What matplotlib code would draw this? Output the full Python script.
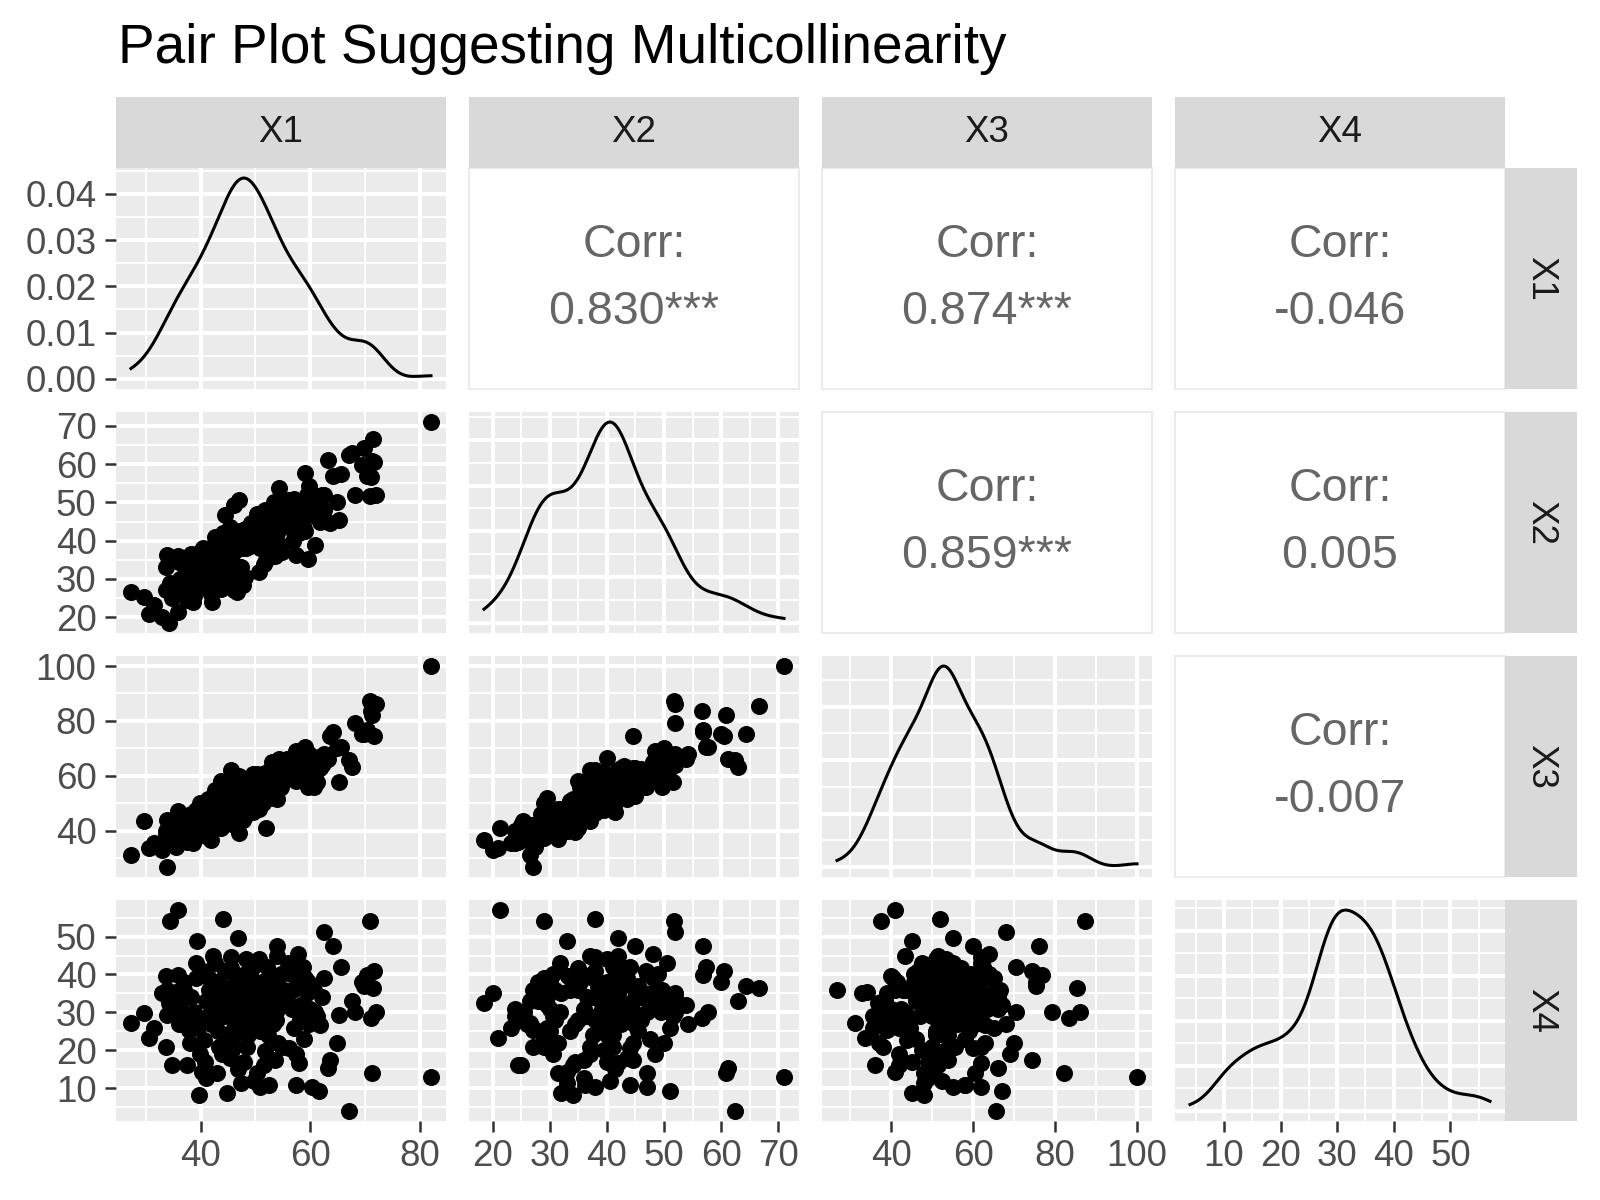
import numpy as np
import matplotlib
matplotlib.use("Agg")
import matplotlib.pyplot as plt
from matplotlib.ticker import MultipleLocator, FormatStrFormatter

plt.rcParams["font.family"] = ["Liberation Sans", "DejaVu Sans"]

x1 = [27.3, 29.7, 30.6, 33.6, 34.2, 33.9, 33.6, 34.5, 33.8, 31.5,
      34.8, 35.8, 35.8, 36.5, 37.3, 37.9, 39.4, 39.1, 37.6, 39.7,
      36.2, 38.3, 38.8, 36.9, 39.5, 38.0, 37.0, 39.9, 35.5, 38.6,
      36.0, 39.2, 40.6, 40.2, 40.9, 44.1, 44.5, 44.8, 42.1, 41.0,
      41.5, 42.0, 42.4, 42.8, 43.2, 43.5, 43.9, 44.3, 40.4, 47.0,
      41.8, 42.6, 43.0, 43.7, 44.6, 40.8, 41.6, 42.2, 43.4, 44.0,
      44.9, 46.0, 43.8, 42.9, 41.4, 46.8, 45.5, 45.6, 49.4, 47.3,
      47.0, 46.1, 46.7, 45.2, 45.8, 46.3, 46.6, 47.1, 47.5, 47.8,
      48.1, 48.4, 48.7, 49.0, 49.3, 49.6, 49.9, 45.3, 45.9, 46.4,
      46.9, 47.4, 47.7, 48.0, 48.3, 48.6, 48.9, 49.2, 49.5, 49.8,
      45.1, 45.7, 46.2, 47.2, 47.9, 48.5, 49.1, 49.7, 53.9, 50.9,
      52.4, 51.8, 53.6, 54.2, 50.6, 52.0, 50.2, 50.5, 50.8, 51.1,
      51.4, 51.7, 52.1, 52.6, 52.9, 53.2, 53.5, 53.8, 54.1, 54.4,
      54.7, 50.3, 50.7, 51.3, 51.9, 52.3, 52.8, 53.3, 53.7, 54.0,
      54.6, 54.9, 50.1, 51.5, 53.0, 57.8, 56.1, 57.9, 57.3, 59.1,
      59.7, 59.6, 48.2, 55.2, 46.5, 55.8, 56.4, 56.7, 57.0, 57.6,
      58.3, 58.6, 58.9, 59.3, 47.6, 56.0, 56.9, 57.4, 58.2, 59.0,
      59.9, 62.4, 64.2, 62.4, 61.8, 64.8, 63.3, 63.6, 60.3, 61.5,
      60.9, 62.1, 60.6, 61.2, 65.2, 68.2, 69.4, 67.0, 67.6, 69.7,
      65.6, 71.5, 70.8, 71.0, 71.2, 70.3, 71.6, 72.0, 82.0, 33.0]

x2 = [26.6, 25.3, 20.9, 27.0, 18.5, 36.2, 33.2, 29.0, 27.1, 23.2,
      25.0, 21.3, 36.0, 26.6, 31.0, 27.0, 33.0, 29.0, 24.5, 34.0,
      30.0, 36.5, 25.5, 33.5, 29.5, 31.5, 28.0, 37.0, 27.5, 23.9,
      34.5, 31.8, 30.0, 33.0, 36.0, 38.0, 46.8, 32.0, 23.9, 28.0,
      35.0, 31.0, 39.0, 29.0, 30.0, 37.5, 30.5, 30.5, 38.0, 32.0,
      26.0, 41.0, 29.5, 27.5, 40.0, 34.5, 30.0, 37.0, 29.0, 42.0,
      28.5, 27.0, 35.0, 31.5, 36.5, 42.0, 38.0, 35.0, 43.0, 33.0,
      50.7, 49.4, 26.6, 31.0, 40.0, 30.0, 33.5, 39.0, 42.0, 41.0,
      30.5, 41.0, 40.5, 38.5, 41.5, 41.5, 40.5, 43.5, 29.0, 37.5,
      41.5, 39.5, 28.5, 43.0, 38.0, 41.0, 40.0, 44.5, 39.5, 42.0,
      36.0, 39.5, 29.5, 42.5, 40.0, 39.5, 42.0, 40.5, 45.0, 38.0,
      44.0, 40.0, 36.0, 53.8, 31.8, 35.0, 42.0, 39.0, 45.5, 41.0,
      43.0, 48.0, 41.0, 38.5, 46.0, 42.5, 40.0, 47.0, 44.5, 39.0,
      49.0, 47.0, 40.0, 41.5, 45.0, 37.5, 43.5, 50.0, 39.5, 42.0,
      46.5, 37.0, 44.0, 34.0, 48.5, 48.0, 44.0, 42.0, 36.2, 57.7,
      54.2, 35.3, 41.0, 45.0, 41.0, 49.0, 47.0, 43.0, 51.0, 45.5,
      49.5, 44.0, 47.5, 52.0, 38.0, 50.5, 40.0, 48.5, 46.0, 42.5,
      50.0, 52.0, 56.8, 48.0, 45.0, 50.0, 61.2, 44.6, 47.0, 51.0,
      38.9, 52.0, 49.6, 51.6, 45.4, 52.0, 59.9, 62.5, 63.0, 64.3,
      57.4, 66.7, 51.8, 56.6, 60.9, 56.8, 60.5, 52.0, 71.0, 20.1]

x3 = [31.1, 43.5, 33.6, 38.0, 36.7, 44.0, 40.0, 37.5, 26.8, 35.5,
      42.0, 41.0, 47.3, 38.5, 44.0, 39.0, 45.0, 40.5, 36.0, 48.0,
      42.5, 46.0, 37.5, 43.0, 44.5, 37.0, 41.5, 50.0, 34.0, 35.5,
      39.5, 47.5, 44.0, 41.0, 49.0, 52.0, 56.0, 45.0, 40.0, 38.0,
      48.5, 43.0, 50.5, 45.5, 44.0, 53.0, 42.0, 47.0, 46.5, 39.0,
      36.5, 55.0, 49.5, 41.0, 51.0, 45.0, 47.0, 43.5, 50.0, 54.0,
      46.0, 42.0, 58.0, 48.0, 51.5, 55.0, 62.0, 49.0, 57.0, 48.0,
      60.0, 58.5, 42.0, 44.5, 53.0, 47.0, 51.0, 50.0, 59.0, 52.0,
      45.5, 55.5, 49.5, 53.5, 57.5, 47.0, 54.5, 51.5, 46.0, 56.0,
      50.5, 53.0, 44.0, 58.0, 51.0, 54.0, 50.0, 52.5, 60.5, 55.0,
      53.5, 47.5, 52.0, 54.5, 49.0, 56.5, 51.5, 52.5, 60.0, 55.0,
      58.0, 53.0, 54.0, 66.0, 48.0, 41.0, 52.5, 51.0, 59.0, 53.0,
      54.5, 61.0, 52.0, 52.0, 62.5, 56.0, 53.5, 58.0, 63.0, 55.5,
      64.0, 60.5, 53.5, 50.0, 52.5, 53.0, 54.0, 60.0, 61.5, 51.5,
      56.0, 62.0, 52.5, 51.5, 65.0, 64.0, 60.0, 62.0, 58.0, 70.5,
      68.0, 56.0, 51.0, 61.5, 57.0, 66.0, 59.5, 63.5, 65.0, 60.5,
      67.0, 62.5, 58.0, 64.5, 55.0, 62.0, 66.5, 69.0, 61.0, 63.0,
      66.0, 68.0, 76.0, 65.0, 63.0, 70.0, 66.2, 74.4, 62.0, 67.0,
      60.0, 64.0, 55.8, 57.6, 57.6, 79.2, 75.4, 65.7, 63.2, 75.4,
      70.5, 85.3, 87.2, 83.5, 82.3, 76.7, 74.4, 86.0, 100.0, 33.0]

x4 = [27.1, 29.8, 23.2, 21.0, 32.4, 29.3, 39.5, 54.0, 36.0, 26.0,
      16.0, 57.0, 39.9, 33.0, 28.5, 25.4, 48.9, 39.0, 16.2, 8.2,
      31.0, 34.0, 30.0, 36.0, 26.0, 22.0, 38.0, 19.0, 35.5, 29.0,
      27.0, 43.0, 22.7, 14.4, 12.6, 54.7, 40.8, 8.7, 31.0, 33.0,
      36.0, 28.0, 30.0, 38.0, 25.0, 34.0, 19.0, 29.0, 41.0, 35.0,
      27.0, 43.0, 32.0, 36.0, 24.0, 17.0, 39.0, 45.0, 21.0, 31.0,
      33.0, 26.0, 37.0, 14.0, 29.0, 49.6, 44.7, 41.6, 41.6, 11.3,
      34.0, 30.0, 27.0, 36.0, 32.0, 38.0, 25.0, 29.0, 35.0, 33.0,
      40.0, 21.0, 31.0, 37.0, 28.0, 34.0, 30.0, 18.0, 23.0, 39.0,
      15.0, 26.0, 36.0, 32.0, 44.0, 24.0, 38.0, 33.0, 27.0, 35.0,
      31.0, 20.0, 34.0, 37.0, 17.0, 29.0, 39.0, 12.0, 47.4, 10.4,
      10.9, 19.7, 17.5, 32.0, 30.0, 28.0, 36.0, 33.0, 25.0, 38.0,
      31.0, 35.0, 42.0, 29.0, 34.0, 27.0, 37.0, 30.0, 22.0, 33.0,
      40.0, 14.0, 44.0, 32.0, 36.0, 24.0, 39.0, 31.0, 28.0, 45.0,
      35.0, 21.0, 29.0, 16.0, 33.0, 45.3, 20.5, 16.6, 10.9, 30.0,
      27.0, 38.0, 33.0, 36.0, 29.0, 34.0, 40.0, 31.0, 26.0, 37.0,
      32.0, 42.0, 23.0, 35.0, 28.0, 43.0, 36.0, 19.0, 28.0, 39.0,
      31.0, 51.1, 47.5, 39.2, 26.7, 21.9, 15.3, 17.5, 10.4, 9.3,
      30.0, 34.0, 36.0, 29.0, 29.3, 30.2, 38.1, 4.0, 33.0, 37.0,
      42.0, 36.4, 54.0, 28.5, 14.0, 39.9, 41.0, 30.0, 13.0, 35.0]

names = ["X1", "X2", "X3", "X4"]
major_steps = [20, 10, 20, 10]
corr_pairs = [(0, 1), (0, 2), (0, 3), (1, 2), (1, 3), (2, 3)]
corr_labels = ["0.830***", "0.874***", "-0.046", "0.859***", "0.005", "-0.007"]
title = "Pair Plot Suggesting Multicollinearity"

data = [np.array(v, dtype=float) for v in (x1, x2, x3, x4)]
corr_map = dict(zip(corr_pairs, corr_labels))


def expand(lo, hi, frac=0.05):
    r = hi - lo
    return lo - frac * r, hi + frac * r


def kde(v):
    # gaussian kernel with R's bw.nrd0, evaluated over the data range
    n = len(v)
    q75, q25 = np.percentile(v, [75, 25])
    bw = 0.9 * min(v.std(ddof=1), (q75 - q25) / 1.34) * n ** -0.2
    grid = np.linspace(v.min(), v.max(), 512)
    z = (grid[:, None] - v[None, :]) / bw
    dens = np.exp(-0.5 * z ** 2).sum(axis=1) / (n * bw * np.sqrt(2 * np.pi))
    return grid, dens


W, H = 1600, 1200
col_left = [116, 469, 822, 1175]
row_top = [168, 412, 656, 900]
pw, ph = 330, 221


def box(left, top, w, h):
    return [left / W, 1 - (top + h) / H, w / W, h / H]


fig = plt.figure(figsize=(16, 12), dpi=100)
fig.text(118 / W, 1 - 63 / H, title, fontsize=39.5, ha="left", va="baseline", color="black")

panel_bg = "#EBEBEB"
tick_col = "#333333"
label_col = "#4D4D4D"

for i in range(4):
    for j in range(4):
        ax = fig.add_axes(box(col_left[j], row_top[i], pw, ph))
        if i < j:
            ax.set_facecolor("white")
            for sp in ax.spines.values():
                sp.set_color("#EBEBEB")
                sp.set_linewidth(1.5)
            ax.set_xticks([])
            ax.set_yticks([])
            ax.text(0.5, 0.65, "Corr:", transform=ax.transAxes, ha="center", va="center",
                    fontsize=33.5, color="#666666")
            ax.text(0.5, 0.35, corr_map[(i, j)], transform=ax.transAxes, ha="center",
                    va="center", fontsize=33.5, color="#666666")
            continue

        ax.set_facecolor(panel_bg)
        for sp in ax.spines.values():
            sp.set_visible(False)
        ax.set_axisbelow(True)
        ax.set_xlim(*expand(data[j].min(), data[j].max()))
        ax.xaxis.set_major_locator(MultipleLocator(major_steps[j]))
        ax.xaxis.set_minor_locator(MultipleLocator(major_steps[j] / 2))

        if i == j:
            gx, gy = kde(data[j])
            ax.plot(gx, gy, color="black", lw=2.2)
            ax.set_ylim(*expand(0, gy.max()))
            ax.yaxis.set_major_locator(MultipleLocator(0.01))
            ax.yaxis.set_minor_locator(MultipleLocator(0.005))
            ax.yaxis.set_major_formatter(FormatStrFormatter("%.2f"))
        else:
            ax.scatter(data[j], data[i], s=150, color="black", linewidths=0)
            ax.set_ylim(*expand(data[i].min(), data[i].max()))
            ax.yaxis.set_major_locator(MultipleLocator(major_steps[i]))
            ax.yaxis.set_minor_locator(MultipleLocator(major_steps[i] / 2))

        ax.grid(which="major", color="white", lw=2.9)
        ax.grid(which="minor", color="white", lw=1.4)
        ax.tick_params(which="minor", length=0)
        ax.tick_params(which="major", length=8, width=1.8, color=tick_col,
                       labelsize=26.5, labelcolor=label_col)
        ax.tick_params(axis="x", pad=5, labelbottom=(i == 3), bottom=(i == 3))
        ax.tick_params(axis="y", pad=6, labelleft=(j == 0), left=(j == 0))

# facet strips
for j in range(4):
    sax = fig.add_axes(box(col_left[j], 97, pw, 71))
    sax.set_facecolor("#D9D9D9")
    sax.set_xticks([])
    sax.set_yticks([])
    for sp in sax.spines.values():
        sp.set_visible(False)
    sax.text(0.5, 0.5, names[j], transform=sax.transAxes, ha="center", va="center",
             fontsize=26.5, color="#1A1A1A")

for i in range(4):
    sax = fig.add_axes(box(col_left[3] + pw, row_top[i], 72, ph))
    sax.set_facecolor("#D9D9D9")
    sax.set_xticks([])
    sax.set_yticks([])
    for sp in sax.spines.values():
        sp.set_visible(False)
    sax.text(0.5, 0.5, names[i], transform=sax.transAxes, ha="center", va="center",
             rotation=-90, fontsize=26.5, color="#1A1A1A")

fig.savefig("out.png", dpi=100, facecolor="white")
